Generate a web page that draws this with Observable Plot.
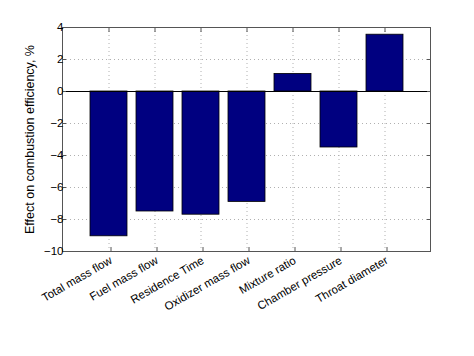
<!DOCTYPE html>
<html><head><meta charset="utf-8">
<script src="https://cdn.jsdelivr.net/npm/d3@7"></script>
<script src="https://cdn.jsdelivr.net/npm/@observablehq/plot@0.6"></script>
<style>body{margin:0;background:#fff}</style>
</head><body><div id="chart"></div>
<script>
const categories = ["Total mass flow","Fuel mass flow","Residence Time","Oxidizer mass flow","Mixture ratio","Chamber pressure","Throat diameter"];
const values = [-9.05, -7.5, -7.7, -6.9, 1.1, -3.5, 3.55];
const yTicks = [-10,-8,-6,-4,-2,0,2,4];
const yLabel = "Effect on combustion efficiency, %";

const data = categories.map((c,i)=>({name:c, value:values[i]}));
const font = "Liberation Sans, Arial, Helvetica, sans-serif";
const grid = {stroke:"#b0b0b0", strokeDasharray:"1,3", strokeWidth:1, strokeOpacity:1};

const chart = Plot.plot({
  width: 474, height: 356,
  marginLeft: 62, marginTop: 27, marginRight: 44, marginBottom: 105,
  style: {fontFamily: font, fontSize: "11.5px", color:"#000", background:"#fff"},
  x: {type:"band", domain: categories, paddingInner: 0.2, paddingOuter: 0.6},
  y: {domain: [-10, 4]},
  marks: [
    Plot.gridY(yTicks, grid),
    Plot.gridX(categories, grid),
    Plot.barY(data, {x:"name", y:"value", fill:"#000080", stroke:"#000", strokeWidth:0.8}),
    Plot.ruleY([0], {stroke:"#000", strokeWidth:1}),
    Plot.frame({stroke:"#555", strokeWidth:1}),
    Plot.axisY(yTicks, {anchor:"left", tickSize:-4, tickPadding:3, stroke:"#555", tickFormat: d => d < 0 ? "\u2212" + Math.abs(d) : String(d),
      fontSize: 11.5, label:null}),
    Plot.axisY({anchor:"left", ticks: [], label: yLabel, labelAnchor:"center", labelArrow:"none", labelOffset: 37, fontSize: 12.5}),
    Plot.axisY(yTicks, {anchor:"right", tickSize:-4, stroke:"#555", tickFormat: () => "", label:null}),
    Plot.axisX(categories, {anchor:"bottom", tickSize:-4, stroke:"#555", tickRotate:-30, tickPadding:12, dx:2, label:null, fontSize: 11.5}),
    Plot.axisX(categories, {anchor:"top", tickSize:-4, stroke:"#555", tickFormat: () => "", label:null})
  ]
});
document.getElementById("chart").appendChild(chart);
</script>
</body></html>
